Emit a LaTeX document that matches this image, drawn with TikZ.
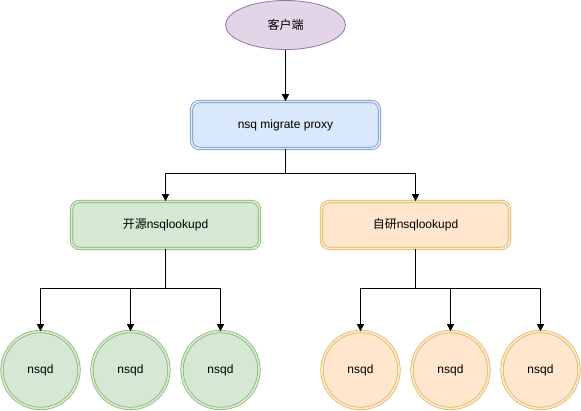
\documentclass[tikz,border=0pt]{standalone}
\usepackage{fontspec}
\setmainfont{Liberation Sans}
\newfontfamily\cjk{Noto Sans CJK SC}
\usetikzlibrary{shapes.geometric,arrows.meta}
\definecolor{pfill}{HTML}{E1D5E7}\definecolor{pline}{HTML}{9673A6}
\definecolor{bfill}{HTML}{DAE8FC}\definecolor{bline}{HTML}{6C8EBF}
\definecolor{gfill}{HTML}{D5E8D4}\definecolor{gline}{HTML}{82B366}
\definecolor{ofill}{HTML}{FFE6CC}\definecolor{oline}{HTML}{D6B656}
\begin{document}
\begin{tikzpicture}[x=1pt,y=-1pt,
  font=\fontsize{12}{14}\selectfont,
  every node/.style={inner sep=0pt},
  client/.style={ellipse,draw=pline,fill=pfill,line width=0.8pt,minimum width=120pt,minimum height=49pt},
  dbox/.style={rounded corners=8pt,minimum width=188pt,minimum height=47pt,line width=0.7pt,double distance=1.8pt},
  proxybox/.style={dbox,draw=bline,double=bfill,fill=bfill},
  greenbox/.style={dbox,draw=gline,double=gfill,fill=gfill},
  orangebox/.style={dbox,draw=oline,double=ofill,fill=ofill},
  dcirc/.style={circle,minimum size=77pt,line width=0.7pt,double distance=1.8pt},
  gcirc/.style={dcirc,draw=gline,double=gfill,fill=gfill},
  ocirc/.style={dcirc,draw=oline,double=ofill,fill=ofill},
  arr/.style={draw=black,line width=0.9pt,-{Triangle[length=7pt,width=7pt]}}]
\useasboundingbox[fill=white] (0,0) rectangle (581,411);
\node[client] (cl) at (285.5,25) {\cjk 客户端};
\node[proxybox] (px) at (285.5,125) {nsq migrate proxy};
\node[greenbox] (g) at (165.5,225) {{\cjk 开源}nsqlookupd};
\node[orangebox] (o) at (415.5,225) {{\cjk 自研}nsqlookupd};
\foreach \i/\x in {1/40.5,2/130.5,3/220.5}{
  \node[gcirc] (g\i) at (\x,370) {nsqd};
}
\foreach \i/\x in {1/360.5,2/450.5,3/540.5}{
  \node[ocirc] (o\i) at (\x,370) {nsqd};
}
\draw[arr] (cl) -- (px);
\draw[arr] (px.south) -- ++(0,25) -| (g.north);
\draw[arr] (px.south) -- ++(0,25) -| (o.north);
\foreach \i in {1,2,3}{
  \draw[arr] (g.south) -- ++(0,40) -| (g\i.north);
  \draw[arr] (o.south) -- ++(0,40) -| (o\i.north);
}
\end{tikzpicture}
\end{document}
